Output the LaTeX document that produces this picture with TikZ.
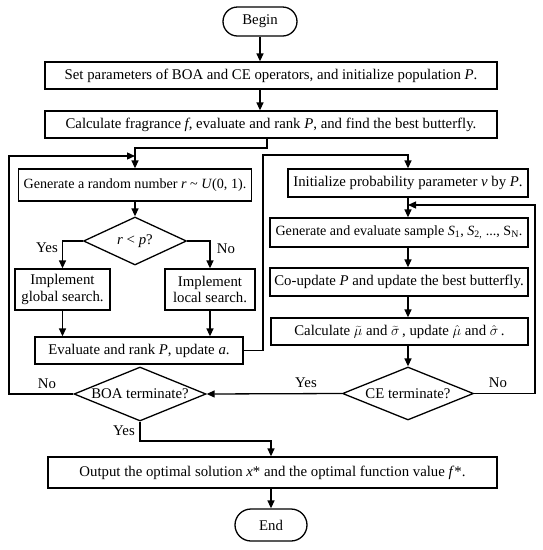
\documentclass[tikz,border=0pt]{standalone}
\usepackage{fontspec}
\setmainfont{Liberation Serif}
\usetikzlibrary{arrows.meta,shapes.geometric,shapes.misc}
\begin{document}
\begin{tikzpicture}[x=1pt,y=-1pt,
  every node/.style={font=\fontsize{14.8}{16.5}\selectfont},
  box/.style={draw, line width=1.3pt, inner sep=0pt, align=center},
  smallbox/.style={box, font=\fontsize{14.1}{16}\selectfont},
  term/.style={draw, line width=1.3pt, rounded rectangle, inner sep=0pt},
  dia/.style={draw, line width=1.3pt, diamond, inner sep=0pt},
  arr/.style={line width=1.3pt, -{Triangle[length=8pt,width=7pt]}},
  lbl/.style={inner sep=0pt}]
\useasboundingbox[fill=white] (0,0) rectangle (542,550);
% central column
\node[term, minimum width=74pt, minimum height=29pt] (begin) at (260,21.5) {Begin};
\node[box, minimum width=452pt, minimum height=27pt] (b1) at (271,75.5) {Set parameters of BOA and CE operators, and initialize population \textit{P}.};
\node[box, minimum width=452pt, minimum height=27pt] (b2) at (271,124.5) {Calculate fragrance \textit{f}, evaluate and rank \textit{P}, and find the best butterfly.};
% left column
\node[smallbox, minimum width=233pt, minimum height=32pt] (gen) at (135,185) {Generate a random number \textit{r} \textasciitilde{} \textit{U}(0, 1).};
\node[dia, minimum width=103pt, minimum height=48pt, label={center:\textit{r} < \textit{p}?}] (d1) at (135,241) {};
\node[box, minimum width=95pt, minimum height=41pt] (glob) at (62.5,289.5) {Implement\\global search.};
\node[box, minimum width=90pt, minimum height=41pt] (loc) at (210,289.5) {Implement\\local search.};
\node[box, minimum width=208pt, minimum height=27pt] (eval) at (139,350.5) {Evaluate and rank \textit{P}, update \textit{a}.};
\node[dia, minimum width=132pt, minimum height=54pt, label={center:BOA terminate?}] (boa) at (140,394) {};
% right column
\node[box, minimum width=240pt, minimum height=28pt] (init) at (408,183) {Initialize probability parameter \textit{v} by \textit{P}.};
\node[smallbox, minimum width=258pt, minimum height=29pt] (samp) at (399,232.5) {Generate and evaluate sample \textit{S}\textsubscript{1}, \textit{S}\textsubscript{2,} ..., S\textsubscript{N}.};
\node[box, minimum width=258pt, minimum height=28pt] (coup) at (399,282) {Co-update \textit{P} and update the best butterfly.};
\node[box, minimum width=257pt, minimum height=27pt] (calc) at (399.5,331.5) {Calculate $\widetilde{\mu}$ and $\widetilde{\sigma}$\,, update $\hat{\mu}$ and $\hat{\sigma}$\,.};
\node[dia, minimum width=131pt, minimum height=53pt, label={center:CE terminate?}] (ce) at (408,393.5) {};
% bottom
\node[box, minimum width=449pt, minimum height=31pt] (out) at (272.5,472.5) {Output the optimal solution \textit{x}* and the optimal function value \textit{f}*.};
\node[term, minimum width=72pt, minimum height=32pt] (end) at (271,525) {End};
% helper coordinates
\coordinate (b2x) at (267,138);
\coordinate (lcorner) at (9,394);
\coordinate (ljoin) at (135,156);
\coordinate (rcorner) at (263,155);
\coordinate (cecorner) at (535,393.5);
\coordinate (rjoin) at (408,205);
\coordinate (yjoin) at (271,441);
% connectors
\draw[arr] (begin.south) -- (begin.south |- b1.north);
\draw[arr] (begin.south |- b1.south) -- (begin.south |- b2.north);
\draw[arr] (b2x) -- ++(0,10) -| (gen.north);
\draw[arr] (boa.west) -- (lcorner) |- (ljoin);
\draw[arr] (gen.south) -- (d1.north);
\draw[arr] (d1.west) -| (glob.north);
\draw[arr] (d1.east) -| (loc.north);
\draw[arr] (glob.south) -- (glob.south |- eval.north);
\draw[arr] (loc.south) -- (loc.south |- eval.north);
\draw[arr] (eval.east) -| (rcorner) -| (init.north);
\draw[arr] (init.south) -- (init.south |- samp.north);
\draw[arr] (init.south |- samp.south) -- (init.south |- coup.north);
\draw[arr] (init.south |- coup.south) -- (init.south |- calc.north);
\draw[arr] (init.south |- calc.south) -- (ce.north);
\draw[arr] (ce.east) -- (cecorner) |- (rjoin);
\draw[arr] (ce.west) -- (boa.east);
\draw[arr] (boa.south) |- (yjoin) -- (yjoin |- out.north);
\draw[arr] (end.north |- out.south) -- (end.north);
% labels
\node[lbl] (y1) at (47,248) {Yes};
\node[lbl] (n1) at (226,249) {No};
\node[lbl] (n2) at (47,384) {No};
\node[lbl] (y2) at (124,431) {Yes};
\node[lbl] (y3) at (306,383) {Yes};
\node[lbl] (n3) at (498,383) {No};
\end{tikzpicture}
\end{document}
